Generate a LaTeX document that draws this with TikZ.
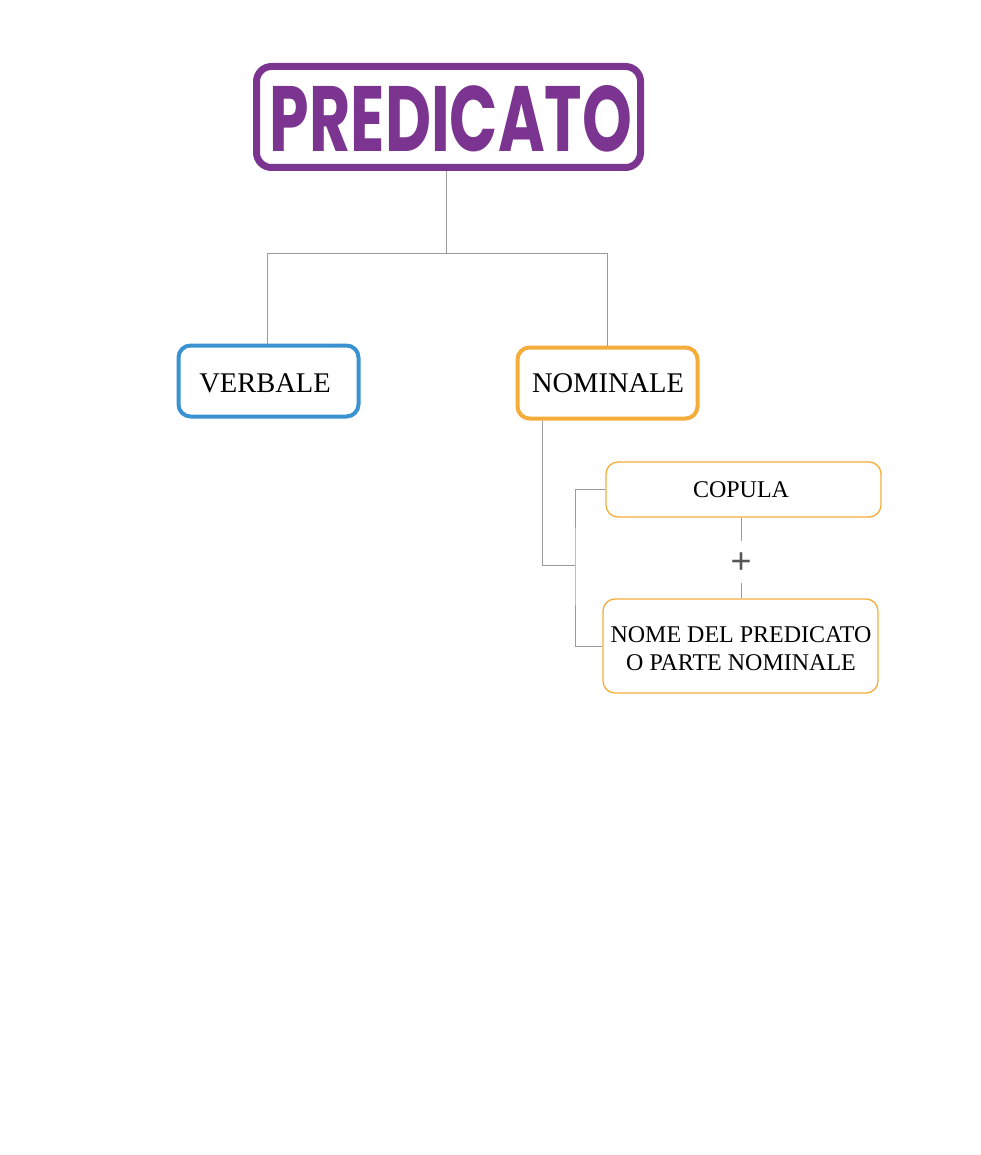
\documentclass[tikz,border=0pt]{standalone}
\usepackage{fontspec}
\setmainfont{Liberation Serif}
\newfontfamily\titlefont{Poppins}
\newfontfamily\plusfont{Liberation Sans}
\definecolor{titlepurple}{HTML}{7B3590}
\definecolor{verbblue}{HTML}{3A93D0}
\definecolor{nomorange}{HTML}{F5AD3A}
\definecolor{linkgray}{HTML}{9A9A9A}
\definecolor{plusgray}{HTML}{555555}
\begin{document}
\begin{tikzpicture}[x=1pt,y=-1pt,
  titlebox/.style={draw=titlepurple,line width=7pt,rounded corners=15pt,minimum width=384pt,minimum height=101pt,inner sep=0pt,text=titlepurple},
  mainbox/.style={line width=4pt,rounded corners=12pt,minimum width=180pt,minimum height=71pt,inner sep=0pt},
  maintext/.style={inner sep=0pt,font=\fontsize{28.5}{32}\selectfont},
  subbox/.style={draw=nomorange,line width=1.3pt,rounded corners=12pt,minimum width=275pt,inner sep=0pt},
  subtext/.style={inner sep=0pt,align=center,font=\fontsize{24}{28}\selectfont},
  link/.style={draw=linkgray,line width=1pt}]
\useasboundingbox (0,0) rectangle (981,1155);
\node[titlebox] (title) at (448.5,117) {};
\node[text=titlepurple,inner sep=0pt] (titletext) at (451,119) {\resizebox{362pt}{66pt}{\titlefont\bfseries PREDICATO}};
\node[mainbox,draw=verbblue] (verb) at (268.5,381) {};
\node[maintext] (verbtext) at (265,383) {VERBALE};
\node[mainbox,draw=nomorange] (nom) at (607.5,383) {};
\node[maintext] (nomtext) at (608,383) {NOMINALE};
\node[subbox,minimum height=55pt] (cop) at (743.5,489.5) {};
\node[subtext] (coptext) at (741,490) {COPULA};
\node[subbox,minimum height=94pt] (nome) at (740.5,646) {};
\node[subtext] (nometext) at (741,649) {NOME DEL PREDICATO\\O PARTE NOMINALE};
\node[inner sep=0pt,text=plusgray,font=\plusfont\fontsize{36}{36}\selectfont] (plus) at (741,563) {+};
\coordinate (split) at (446,254);
\coordinate (tree) at (575,565);
\draw[link] (title.south -| split) -- (split);
\draw[link] (verb.north -| 267,0) |- (split);
\draw[link] (nom.north -| 607,0) |- (split);
\draw[link] (nom.south -| 542,0) |- (tree);
\draw[link] (cop.west) -| (tree) |- (nome.west);
\draw[link] (cop.south -| plus) -- (741,541);
\draw[link] (741,583) -- (nome.north -| plus);
\end{tikzpicture}
\end{document}
